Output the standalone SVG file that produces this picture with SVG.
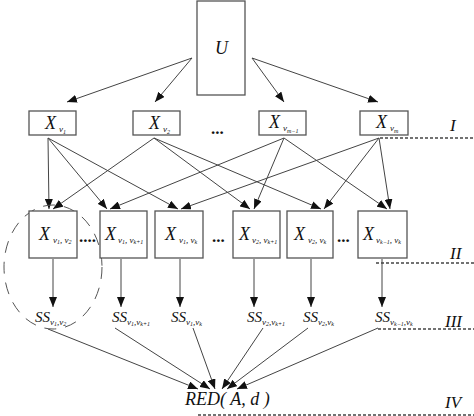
<svg xmlns="http://www.w3.org/2000/svg" width="474" height="416" viewBox="0 0 474 416">
<defs>
<style>
.box{fill:#fff;stroke:#555;stroke-width:1.3}
.ln{stroke:#444;stroke-width:1;fill:none}
.dash{stroke:#444;stroke-width:1.6;stroke-dasharray:3,2;fill:none}
.t{font-family:"Liberation Serif",serif;font-style:italic;fill:#111}
.big{font-size:18px}
.sub{font-size:9px}
.ss{font-size:15px}
.dots{font-family:"Liberation Serif",serif;font-size:17px;font-weight:bold;fill:#111}
</style>
<marker id="ah" viewBox="0 0 10 8" refX="10" refY="4" markerWidth="10" markerHeight="8" markerUnits="userSpaceOnUse" orient="auto">
<path d="M0,0 L10,4 L0,8 z" fill="#111"/>
</marker>
</defs>
<rect width="474" height="416" fill="#fff"/>

<g id="connectors">
<line class="ln" x1="192" y1="58" x2="67" y2="102" marker-end="url(#ah)"/>
<line class="ln" x1="192" y1="58" x2="155" y2="102" marker-end="url(#ah)"/>
<line class="ln" x1="252" y1="58" x2="284" y2="102" marker-end="url(#ah)"/>
<line class="ln" x1="252" y1="58" x2="378" y2="102" marker-end="url(#ah)"/>

<line class="ln" x1="48" y1="138" x2="49" y2="209" marker-end="url(#ah)"/>
<line class="ln" x1="48" y1="138" x2="107" y2="209" marker-end="url(#ah)"/>
<line class="ln" x1="48" y1="138" x2="178" y2="209" marker-end="url(#ah)"/>
<line class="ln" x1="154" y1="138" x2="53" y2="209" marker-end="url(#ah)"/>
<line class="ln" x1="154" y1="138" x2="250" y2="209" marker-end="url(#ah)"/>
<line class="ln" x1="154" y1="138" x2="321" y2="209" marker-end="url(#ah)"/>
<line class="ln" x1="284" y1="138" x2="110" y2="209" marker-end="url(#ah)"/>
<line class="ln" x1="284" y1="138" x2="254" y2="209" marker-end="url(#ah)"/>
<line class="ln" x1="284" y1="138" x2="387" y2="209" marker-end="url(#ah)"/>
<line class="ln" x1="379" y1="138" x2="181" y2="209" marker-end="url(#ah)"/>
<line class="ln" x1="379" y1="138" x2="324" y2="209" marker-end="url(#ah)"/>
<line class="ln" x1="379" y1="138" x2="390" y2="209" marker-end="url(#ah)"/>

<line class="ln" x1="53" y1="259" x2="53" y2="307" marker-end="url(#ah)"/>
<line class="ln" x1="121" y1="259" x2="121" y2="307" marker-end="url(#ah)"/>
<line class="ln" x1="180" y1="259" x2="180" y2="307" marker-end="url(#ah)"/>
<line class="ln" x1="254" y1="259" x2="254" y2="307" marker-end="url(#ah)"/>
<line class="ln" x1="311" y1="259" x2="311" y2="307" marker-end="url(#ah)"/>
<line class="ln" x1="382" y1="259" x2="382" y2="307" marker-end="url(#ah)"/>

<line class="ln" x1="48" y1="329" x2="198" y2="389" marker-end="url(#ah)"/>
<line class="ln" x1="115" y1="328" x2="210" y2="389" marker-end="url(#ah)"/>
<line class="ln" x1="193" y1="328" x2="215" y2="389" marker-end="url(#ah)"/>
<line class="ln" x1="263" y1="328" x2="222" y2="389" marker-end="url(#ah)"/>
<line class="ln" x1="308" y1="328" x2="227" y2="389" marker-end="url(#ah)"/>
<line class="ln" x1="378" y1="328" x2="237" y2="389" marker-end="url(#ah)"/>

<line class="dash" x1="380" y1="138" x2="474" y2="138"/>
<line class="dash" x1="376" y1="263" x2="474" y2="263"/>
<line class="dash" x1="378" y1="329" x2="474" y2="329"/>
<line class="dash" x1="198" y1="415" x2="474" y2="415"/>

<ellipse cx="53" cy="267" rx="49" ry="62" fill="none" stroke="#555" stroke-width="1" stroke-dasharray="12,9"/>
</g>

<g id="U">
<rect class="box" x="197" y="1" width="48" height="94"/>
<text class="t big" x="215" y="54">U</text>
</g>

<g id="Xv1">
<rect class="box" x="29" y="111" width="47" height="24"/>
<text class="t big" x="45" y="129">X<tspan class="sub" dx="3" dy="3">v</tspan><tspan font-size="6" dy="2">1</tspan></text>
</g>
<g id="Xv2">
<rect class="box" x="133" y="111" width="47" height="24"/>
<text class="t big" x="149" y="129">X<tspan class="sub" dx="3" dy="3">v</tspan><tspan font-size="6" dy="2">2</tspan></text>
</g>
<g id="Xvm1">
<rect class="box" x="259" y="111" width="47" height="24"/>
<text class="t big" x="269" y="128">X<tspan class="sub" dx="3" dy="3">v</tspan><tspan font-size="6" dy="2">m−1</tspan></text>
</g>
<g id="Xvm">
<rect class="box" x="360" y="111" width="48" height="24"/>
<text class="t big" x="376" y="128">X<tspan class="sub" dx="3" dy="3">v</tspan><tspan font-size="6" dy="2">m</tspan></text>
</g>
<text class="dots" x="211" y="134">...</text>

<g id="X12">
<rect class="box" x="29" y="211" width="48" height="47"/>
<text class="t big" x="39" y="240">X<tspan class="sub" dx="3" dy="3">v</tspan><tspan font-size="6" dy="1">1</tspan><tspan class="sub" dy="-1">, v</tspan><tspan font-size="6" dy="1">2</tspan></text>
</g>
<g id="X1k1">
<rect class="box" x="100" y="211" width="47" height="47"/>
<text class="t big" x="105" y="240">X<tspan class="sub" dx="2" dy="3">v</tspan><tspan font-size="6" dy="1">1</tspan><tspan class="sub" dy="-1">, v</tspan><tspan font-size="6" dy="1">k+1</tspan></text>
</g>
<g id="X1k">
<rect class="box" x="155" y="211" width="48" height="47"/>
<text class="t big" x="165" y="240">X<tspan class="sub" dx="3" dy="3">v</tspan><tspan font-size="6" dy="1">1</tspan><tspan class="sub" dy="-1">, v</tspan><tspan font-size="6" dy="1">k</tspan></text>
</g>
<g id="X2k1">
<rect class="box" x="233" y="211" width="47" height="47"/>
<text class="t big" x="239" y="240">X<tspan class="sub" dx="2" dy="3">v</tspan><tspan font-size="6" dy="1">2</tspan><tspan class="sub" dy="-1">, v</tspan><tspan font-size="6" dy="1">k+1</tspan></text>
</g>
<g id="X2k">
<rect class="box" x="287" y="211" width="46" height="47"/>
<text class="t big" x="294" y="240">X<tspan class="sub" dx="3" dy="3">v</tspan><tspan font-size="6" dy="1">2</tspan><tspan class="sub" dy="-1">, v</tspan><tspan font-size="6" dy="1">k</tspan></text>
</g>
<g id="Xk1k">
<rect class="box" x="358" y="211" width="49" height="47"/>
<text class="t big" x="363" y="240">X<tspan class="sub" dx="2" dy="3">v</tspan><tspan font-size="6" dy="1">k−1</tspan><tspan class="sub" dy="-1">, v</tspan><tspan font-size="6" dy="1">k</tspan></text>
</g>
<text class="dots" x="79" y="242">....</text>
<text class="dots" x="212" y="242">...</text>
<text class="dots" x="337" y="242">...</text>

<g id="SS12"><text class="t ss" x="35" y="322">SS<tspan class="sub" dy="3">v</tspan><tspan font-size="6" dy="1">1</tspan><tspan class="sub" dy="-1">,v</tspan><tspan font-size="6" dy="1">2</tspan></text></g>
<g id="SS1k1"><text class="t ss" x="112" y="322">SS<tspan class="sub" dy="3">v</tspan><tspan font-size="6" dy="1">1</tspan><tspan class="sub" dy="-1">,v</tspan><tspan font-size="6" dy="1">k+1</tspan></text></g>
<g id="SS1k"><text class="t ss" x="171" y="322">SS<tspan class="sub" dy="3">v</tspan><tspan font-size="6" dy="1">1</tspan><tspan class="sub" dy="-1">,v</tspan><tspan font-size="6" dy="1">k</tspan></text></g>
<g id="SS2k1"><text class="t ss" x="247" y="322">SS<tspan class="sub" dy="3">v</tspan><tspan font-size="6" dy="1">2</tspan><tspan class="sub" dy="-1">,v</tspan><tspan font-size="6" dy="1">k+1</tspan></text></g>
<g id="SS2k"><text class="t ss" x="303" y="322">SS<tspan class="sub" dy="3">v</tspan><tspan font-size="6" dy="1">2</tspan><tspan class="sub" dy="-1">,v</tspan><tspan font-size="6" dy="1">k</tspan></text></g>
<g id="SSk1k"><text class="t ss" x="375" y="322">SS<tspan class="sub" dy="3">v</tspan><tspan font-size="6" dy="1">k−1</tspan><tspan class="sub" dy="-1">,v</tspan><tspan font-size="6" dy="1">k</tspan></text></g>

<g id="RED"><text class="t big" x="185" y="405">RED( A, d )</text></g>

<text class="t" font-size="17" x="450" y="131">I</text>
<text class="t" font-size="17" x="450" y="259">II</text>
<text class="t" font-size="17" x="445" y="327">III</text>
<text class="t" font-size="17" x="445" y="408">IV</text>
</svg>
